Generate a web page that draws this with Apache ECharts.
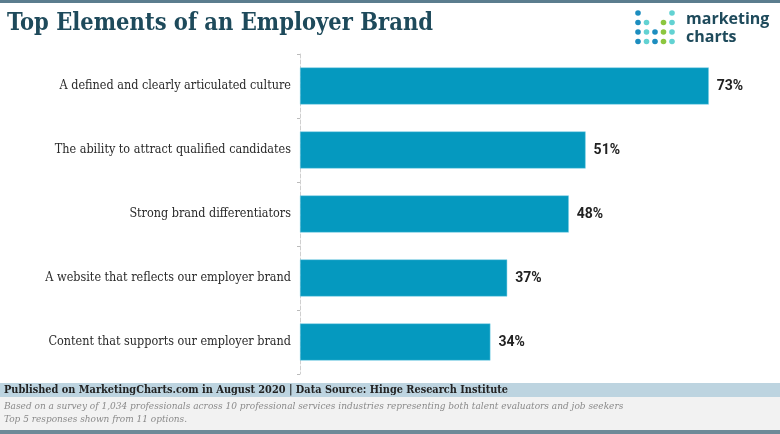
<!DOCTYPE html>
<html><head><meta charset="utf-8">
<script src="https://cdn.jsdelivr.net/npm/echarts@6/dist/echarts.min.js"></script>
<style>html,body{margin:0;padding:0;background:#fff}#c{width:780px;height:434px}</style>
</head><body><div id="c"></div>
<script>
const categories = [
  "A defined and clearly articulated culture",
  "The ability to attract qualified candidates",
  "Strong brand differentiators",
  "A website that reflects our employer brand",
  "Content that supports our employer brand"
];
const values = [73, 51, 48, 37, 34];
const titleText = "Top Elements of an Employer Brand";
const sourceText = "Published on MarketingCharts.com in August 2020 | Data Source: Hinge Research Institute";
const noteLines = [
  "Based on a survey of 1,034 professionals across 10 professional services industries representing both talent evaluators and job seekers",
  "Top 5 responses shown from 11 options."
];

const chart = echarts.init(document.getElementById('c'), null, {renderer: 'canvas'});
const slab = '"DejaVu Serif Condensed", "DejaVu Serif", serif';

const mctx = document.createElement('canvas').getContext('2d');
function fitText(text, font, x, y, targetW, fill) {
  mctx.font = font;
  const w = mctx.measureText(text).width;
  const s = Math.min(1, targetW / w);
  return {type: 'text', x: x, y: y, scaleX: s, scaleY: 1, silent: true,
    style: {text: text, font: font, fill: fill, textVerticalAlign: 'top', textAlign: 'left'}};
}

const dotBlue = '#1c8dbf', dotTeal = '#62d2d2', dotGreen = '#8cc63f';
const dotCols = [638, 646.5, 655, 663.5, 672];
const dotRows = [13, 22.5, 32, 41.5];
const dotMap = [
  [dotBlue, null, null, null, dotTeal],
  [dotBlue, dotTeal, null, dotGreen, dotTeal],
  [dotBlue, dotTeal, dotBlue, dotGreen, dotTeal],
  [dotBlue, dotTeal, dotBlue, dotGreen, dotTeal]
];
const dots = [];
dotMap.forEach((row, r) => row.forEach((col, c) => {
  if (col) dots.push({type: 'circle', shape: {cx: dotCols[c], cy: dotRows[r], r: 2.8}, style: {fill: col}, silent: true});
}));

chart.setOption({
  animation: false,
  backgroundColor: '#fff',
  grid: {left: 300, right: 32, top: 54, height: 320, containLabel: false},
  xAxis: {type: 'value', min: 0, max: 80, show: false},
  yAxis: {
    type: 'category', data: categories, inverse: true,
    axisLine: {show: true, lineStyle: {color: '#cfcfcf', type: 'dashed', width: 1}},
    axisTick: {show: true, length: 3, lineStyle: {color: '#bbbbbb'}},
    axisLabel: {fontFamily: slab, fontSize: 12.5, color: '#2a2a2a', margin: 9}
  },
  series: [{
    type: 'bar', data: values, barCategoryGap: '42%',
    itemStyle: {color: '#0599bf', borderColor: '#7fd0e6', borderWidth: 0.5},
    label: {show: true, position: 'right', distance: 8, formatter: '{c}%',
      fontFamily: 'Roboto, Arial, sans-serif', fontWeight: 'bold', fontSize: 14, color: '#222'}
  }],
  graphic: [
    {type: 'rect', shape: {x: 0, y: 0, width: 780, height: 3}, style: {fill: '#5b7d8e'}, silent: true},
    fitText(titleText, 'bold 24px ' + slab, 7, 12, 426, '#1e4a5b'),
    ...dots,
    {type: 'text', x: 686, y: 11, silent: true, style: {text: 'marketing', font: 'bold 16px "Open Sans", sans-serif', fill: '#1e4a5b', textVerticalAlign: 'top'}},
    {type: 'text', x: 686, y: 29, silent: true, style: {text: 'charts', font: 'bold 16px "Open Sans", sans-serif', fill: '#1e4a5b', textVerticalAlign: 'top'}},
    {type: 'rect', shape: {x: 0, y: 383, width: 780, height: 14}, style: {fill: '#bdd4e0'}, silent: true},
    {type: 'rect', shape: {x: 0, y: 397, width: 780, height: 33}, style: {fill: '#f2f2f2'}, silent: true},
    {type: 'rect', shape: {x: 0, y: 430, width: 780, height: 4}, style: {fill: '#6e8a98'}, silent: true},
    fitText(sourceText, 'bold 11.5px ' + slab, 4, 384, 504, '#222'),
    fitText(noteLines[0], 'italic 10px ' + slab, 4, 401, 626, '#8a8a8a'),
    fitText(noteLines[1], 'italic 10px ' + slab, 4, 414, 183, '#8a8a8a')
  ]
});
</script></body></html>
